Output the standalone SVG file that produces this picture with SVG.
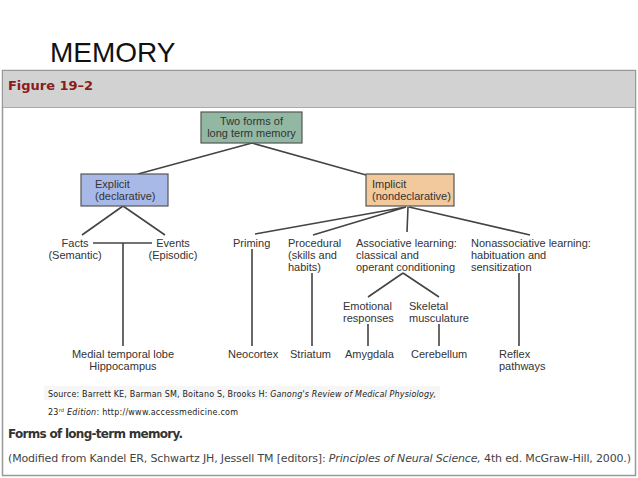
<svg xmlns="http://www.w3.org/2000/svg" width="638" height="478" viewBox="0 0 638 478">
<style>
.t{font-family:"Liberation Sans",Arial,sans-serif;font-size:11px;fill:#333}
.tc{text-anchor:middle}
.box{stroke:#555;stroke-width:1.2}
.ln{stroke:#444;stroke-width:1.6;fill:none}
.v{font-family:"DejaVu Sans",Verdana,sans-serif}
</style>
<rect width="638" height="478" fill="#fff"/>
<text x="50" y="62" font-family="Liberation Sans, Arial, sans-serif" font-size="28" fill="#111">MEMORY</text>
<rect x="2.5" y="70.5" width="633" height="405" fill="#fff" stroke="#999" stroke-width="1.5"/>
<rect x="3" y="71" width="632" height="36" fill="#d2d2d2"/>
<line x1="3" y1="107.5" x2="635" y2="107.5" stroke="#aaa" stroke-width="1"/>
<text x="8" y="90" class="v" font-size="13" font-weight="bold" fill="#8b1c1c" textLength="85">Figure 19–2</text>

<g id="connectors">
<path class="ln" d="M252 143 L138 174 M252 143 L366 175"/>
<path class="ln" d="M123 206 L82 235 M123 206 L165 235"/>
<path class="ln" d="M93 243 L152 243 M123 243 L123 346"/>
<path class="ln" d="M406 207 L255 234 M406 207 L313 235 M408 207 L407 232 M409 207 L530 235"/>
<path class="ln" d="M252 249 L252 346 M312 273 L312 346 M519 273 L519 346"/>
<path class="ln" d="M403 273 L368 297 M403 273 L439 297"/>
<path class="ln" d="M368 324 L368 346 M439 324 L439 346"/>
</g>

<g id="n-top">
<rect class="box" x="201" y="112" width="101" height="31" fill="#92b7a2"/>
<text class="t tc" x="251.5" y="125">Two forms of</text>
<text class="t tc" x="251.5" y="137">long term memory</text>
</g>
<g id="n-explicit">
<rect class="box" x="81" y="174" width="87" height="32" fill="#a8b9e8"/>
<text class="t" x="95" y="188">Explicit</text>
<text class="t" x="95" y="200">(declarative)</text>
</g>
<g id="n-implicit">
<rect class="box" x="366" y="174" width="88" height="32" fill="#f1c99c"/>
<text class="t" x="372" y="188">Implicit</text>
<text class="t" x="372" y="200">(nondeclarative)</text>
</g>
<g id="n-facts">
<text class="t tc" x="75" y="247">Facts</text>
<text class="t tc" x="75" y="259">(Semantic)</text>
</g>
<g id="n-events">
<text class="t tc" x="173" y="247">Events</text>
<text class="t tc" x="173" y="259">(Episodic)</text>
</g>
<g id="n-mtl">
<text class="t tc" x="123" y="358">Medial temporal lobe</text>
<text class="t tc" x="123" y="370">Hippocampus</text>
</g>
<g id="n-priming">
<text class="t" x="233" y="247">Priming</text>
</g>
<g id="n-procedural">
<text class="t" x="288" y="247">Procedural</text>
<text class="t" x="288" y="259">(skills and</text>
<text class="t" x="288" y="271">habits)</text>
</g>
<g id="n-associative">
<text class="t" x="356" y="247">Associative learning:</text>
<text class="t" x="356" y="259">classical and</text>
<text class="t" x="356" y="271">operant conditioning</text>
</g>
<g id="n-nonassociative">
<text class="t" x="471" y="247">Nonassociative learning:</text>
<text class="t" x="471" y="259">habituation and</text>
<text class="t" x="471" y="271">sensitization</text>
</g>
<g id="n-emotional">
<text class="t" x="343" y="310">Emotional</text>
<text class="t" x="343" y="322">responses</text>
</g>
<g id="n-skeletal">
<text class="t" x="409" y="310">Skeletal</text>
<text class="t" x="409" y="322">musculature</text>
</g>
<g id="n-neocortex"><text class="t" x="228" y="358">Neocortex</text></g>
<g id="n-striatum"><text class="t" x="290" y="358">Striatum</text></g>
<g id="n-amygdala"><text class="t" x="345" y="358">Amygdala</text></g>
<g id="n-cerebellum"><text class="t" x="411" y="358">Cerebellum</text></g>
<g id="n-reflex">
<text class="t" x="499" y="358">Reflex</text>
<text class="t" x="499" y="370">pathways</text>
</g>

<rect x="44" y="386" width="396" height="14" fill="#f6f6f6"/>
<text class="v" x="48" y="397" font-size="8" fill="#222" textLength="388">Source: Barrett KE, Barman SM, Boitano S, Brooks H: <tspan font-style="italic">Ganong's Review of Medical Physiology,</tspan></text>
<text class="v" x="48" y="415" font-size="8" fill="#222" textLength="190">23<tspan font-size="5" dy="-3">rd</tspan><tspan dy="3" font-style="italic"> Edition</tspan>: http://www.accessmedicine.com</text>
<text class="v" x="8" y="438" font-size="12" font-weight="bold" fill="#333" textLength="175">Forms of long-term memory.</text>
<text class="v" x="8" y="462" font-size="11" fill="#444" textLength="623">(Modified from Kandel ER, Schwartz JH, Jessell TM [editors]: <tspan font-style="italic">Principles of Neural Science,</tspan> 4th ed. McGraw-Hill, 2000.)</text>
</svg>
